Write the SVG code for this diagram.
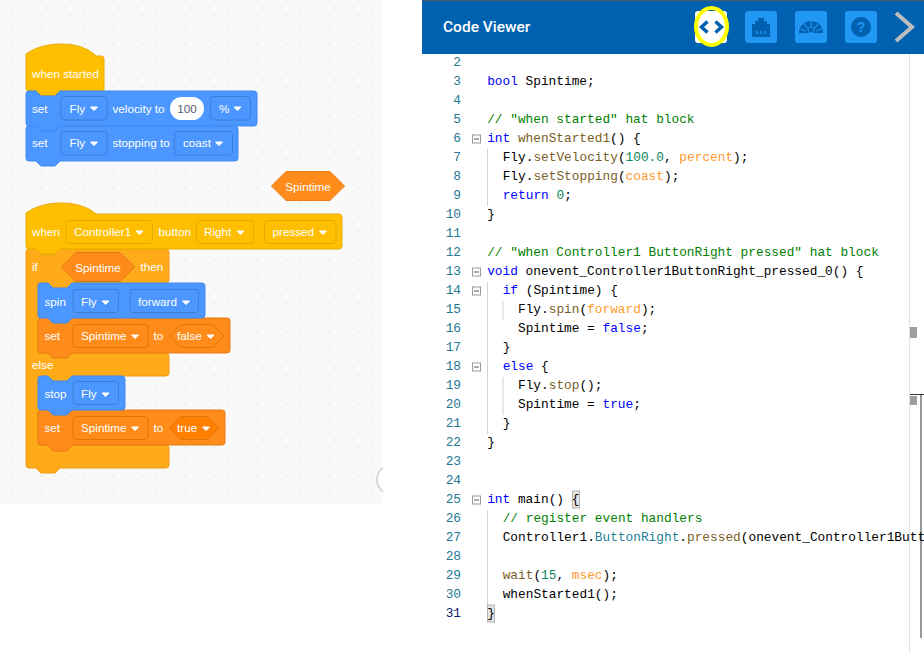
<svg xmlns="http://www.w3.org/2000/svg" width="924" height="653" viewBox="0 0 924 653">
<style>
.b{font-family:"Liberation Sans",Arial,sans-serif;font-size:11.7px;fill:#fff}
.hat{fill:#ffbf00;stroke:#e6ac00;stroke-width:1}
.blu{fill:#4c97ff;stroke:#3f8bf0;stroke-width:1}
.ctl{fill:#ffab19;stroke:#ec9c13;stroke-width:1}
.org{fill:#ff8c1a;stroke:#e67a0e;stroke-width:1}
.phat{fill:#ffbf00;stroke:#e6a800;stroke-width:1}
.pblu{fill:#4c97ff;stroke:#3c7fd9;stroke-width:1}
.porg{fill:#ff8c1a;stroke:#e0750c;stroke-width:1}
.pdk{fill:#ff7f00;stroke:#e0750c;stroke-width:1}
.hex{fill:#ff8c1a;stroke:#f07c10;stroke-width:1}
.c{font-family:"Liberation Mono","DejaVu Sans Mono",monospace;font-size:12.8px;fill:#000;white-space:pre}
.n{font-family:"Liberation Mono","DejaVu Sans Mono",monospace;font-size:12.8px;fill:#237893;text-anchor:end}
.k{fill:#0000ff}.m{fill:#008000}.f{fill:#795e26}.p{fill:#ff9a2e}.y{fill:#267f99}.d{fill:#09885a}.br{fill:#7a4a10}
.fold{fill:#fff;stroke:#9a9a9a;stroke-width:1}
.guide{stroke:#d3d3d3;stroke-width:1;fill:none}
.ico{fill:#2196f3}
.ig{fill:#0061b0}
</style>
<defs>
<pattern id="dots" x="12" y="14.2" width="14.4" height="14.4" patternUnits="userSpaceOnUse"><circle cx="0.7" cy="0.7" r="0.7" fill="#d6d6d6"/></pattern>
<path id="dd" d="M-3.5 0H3.5L0 3.6Z" fill="#fff" stroke="#fff" stroke-width="1" stroke-linejoin="round"/>
<clipPath id="ws"><rect x="0" y="0" width="383" height="504"/></clipPath>
</defs>
<rect width="924" height="653" fill="#fff"/>

<g id="workspace">
<rect x="0" y="0" width="383" height="504" fill="#f9f9f9"/>
<rect x="0" y="0" width="383" height="504" fill="url(#dots)"/>
<circle cx="392" cy="479.500" r="15" fill="#fff" stroke="#d9d9d9" stroke-width="2" clip-path="url(#ws)"/>
</g>

<g id="stack-when-started">
<g id="hat-when-started">
<path class="hat" d="M26 54C36 47 48 44 62 44C76 44 88 48 96 56H101Q104 56 104 59V91H60L55 96H41L36 91H29Q26 91 26 88Z"/>
<text class="b" x="32" y="78">when started</text>
</g>
<g id="block-set-velocity">
<path class="blu" d="M29 91H36L41 96H55L60 91H254Q257 91 257 94V123Q257 126 254 126H60L55 131H41L36 126H29Q26 126 26 123V94Q26 91 29 91Z"/>
<text class="b" x="32" y="113">set</text>
<rect class="pblu" x="61" y="96.500" width="46" height="23.500" rx="3"/>
<text class="b" x="69.500" y="113">Fly</text><use href="#dd" x="94" y="107"/>
<text class="b" x="112.500" y="113">velocity to</text>
<rect x="170" y="97" width="34" height="23" rx="11.500" fill="#fff"/>
<text class="b" x="187" y="113" text-anchor="middle" style="fill:#575e75">100</text>
<rect class="pblu" x="210.500" y="96.500" width="40" height="23.500" rx="3"/>
<text class="b" x="219" y="113">%</text><use href="#dd" x="237.500" y="107"/>
</g>
<g id="block-set-stopping">
<path class="blu" d="M29 126H36L41 131H55L60 126H235Q238 126 238 129V158Q238 161 235 161H60L55 166H41L36 161H29Q26 161 26 158V129Q26 126 29 126Z"/>
<path d="M36 126.500L41 131H55L60 126.500Z" fill="#4c97ff"/>
<path d="M36 126L41 131H55L60 126" fill="none" stroke="#3f8bf0"/>
<text class="b" x="32" y="147">set</text>
<rect class="pblu" x="61" y="131.500" width="46" height="23.500" rx="3"/>
<text class="b" x="69.500" y="147">Fly</text><use href="#dd" x="94" y="142"/>
<text class="b" x="112.500" y="147">stopping to</text>
<rect class="pblu" x="174.500" y="131.500" width="58" height="23.500" rx="3"/>
<text class="b" x="183" y="147">coast</text><use href="#dd" x="219" y="142"/>
</g>
</g>

<g id="var-spintime">
<path class="hex" d="M286 171.500H330L344.500 186L330 200.500H286L271.500 186Z"/>
<text class="b" x="308" y="191" text-anchor="middle">Spintime</text>
</g>

<g id="stack-when-pressed">
<g id="block-if-else">
<path class="ctl" d="M29 249H36L41 254H55L60 249H166Q169 249 169 252V280Q169 283 166 283H72L67 288H53L48 283H38V353H166Q169 353 169 356V373Q169 376 166 376H72L67 381H53L48 376H38V445H166Q169 445 169 448V465Q169 468 166 468H60L55 473H41L36 468H29Q26 468 26 465V252Q26 249 29 249Z"/>
<text class="b" x="32" y="271">if</text>
<path class="pdk" d="M76 252.500H120L134.500 267L120 281.500H76L61.500 267Z" style="fill:#ff8c1a"/>
<text class="b" x="98" y="271.500" text-anchor="middle">Spintime</text>
<text class="b" x="140.500" y="271">then</text>
<text class="b" x="32" y="369">else</text>
</g>
<g id="hat-when-pressed">
<path class="hat" d="M26 213C36 206 48 203 62 203C76 203 88 207 96 214H339Q342 214 342 217V246Q342 249 339 249H60L55 254H41L36 249H29Q26 249 26 246Z"/>
<text class="b" x="32" y="236">when</text>
<rect class="phat" x="66" y="220.500" width="86.500" height="23" rx="3"/>
<text class="b" x="74" y="236">Controller1</text><use href="#dd" x="139.500" y="231"/>
<text class="b" x="158.500" y="236">button</text>
<rect class="phat" x="196.500" y="220.500" width="57" height="23" rx="3"/>
<text class="b" x="204" y="236">Right</text><use href="#dd" x="240.500" y="231"/>
<rect class="phat" x="264.500" y="220.500" width="71.500" height="23" rx="3"/>
<text class="b" x="272.500" y="236">pressed</text><use href="#dd" x="323" y="231"/>
</g>
<g id="block-set-false">
<path class="org" d="M41 318H48L53 323H67L72 318H227Q230 318 230 321V350Q230 353 227 353H72L67 358H53L48 353H41Q38 353 38 350V321Q38 318 41 318Z"/>
<text class="b" x="44.500" y="340">set</text>
<rect class="porg" x="73" y="324.500" width="75" height="23" rx="3"/>
<text class="b" x="81" y="340">Spintime</text><use href="#dd" x="135" y="335"/>
<text class="b" x="153.500" y="340">to</text>
<path class="porg" d="M181 324.500H212L224 336L212 347.500H181L169.500 336Z"/>
<text class="b" x="177" y="340">false</text><use href="#dd" x="210.500" y="335"/>
</g>
<g id="block-spin">
<path class="blu" d="M41 283H48L53 288H67L72 283H202Q205 283 205 286V315Q205 318 202 318H72L67 323H53L48 318H41Q38 318 38 315V286Q38 283 41 283Z"/>
<text class="b" x="44.500" y="306">spin</text>
<rect class="pblu" x="73" y="289.500" width="45.500" height="23" rx="3"/>
<text class="b" x="81" y="306">Fly</text><use href="#dd" x="105.500" y="301"/>
<rect class="pblu" x="130" y="289.500" width="68.500" height="23" rx="3"/>
<text class="b" x="138" y="306">forward</text><use href="#dd" x="186" y="301"/>
</g>
<g id="block-set-true">
<path class="org" d="M41 410H48L53 415H67L72 410H222Q225 410 225 413V442Q225 445 222 445H72L67 451H53L48 445H41Q38 445 38 442V413Q38 410 41 410Z"/>
<text class="b" x="44.500" y="432">set</text>
<rect class="porg" x="73" y="416.500" width="75" height="23" rx="3"/>
<text class="b" x="81" y="432">Spintime</text><use href="#dd" x="135" y="427"/>
<text class="b" x="153.500" y="432">to</text>
<path class="pdk" d="M181 416.500H207L219 428L207 439.500H181L169.500 428Z"/>
<text class="b" x="177" y="432">true</text><use href="#dd" x="206" y="427"/>
</g>
<g id="block-stop">
<path class="blu" d="M41 376H48L53 381H67L72 376H122Q125 376 125 379V407Q125 410 122 410H72L67 415H53L48 410H41Q38 410 38 407V379Q38 376 41 376Z"/>
<text class="b" x="44.500" y="398">stop</text>
<rect class="pblu" x="73" y="381.500" width="45.500" height="23" rx="3"/>
<text class="b" x="81" y="398">Fly</text><use href="#dd" x="105.500" y="393"/>
</g>
</g>

<g id="code-viewer-header">
<rect x="422" y="0" width="502" height="54" fill="#0061b0"/>
<rect x="422" y="0" width="502" height="1.500" fill="#3a5f85"/>
<text x="443" y="32" font-family="Roboto,'Liberation Sans',sans-serif" font-size="15.500" font-weight="500" fill="#fff">Code Viewer</text>
<g id="icon-code">
<rect x="695" y="11" width="32" height="32" rx="3" fill="#fff"/>
<ellipse cx="711.500" cy="26.500" rx="15.500" ry="18.500" fill="none" stroke="#ffff00" stroke-width="4"/>
<path d="M707.500 21.500L701.500 27L707.500 32.500M715.500 21.500L721.500 27L715.500 32.500" fill="none" stroke="#0061b0" stroke-width="3.500"/>
</g>
<g id="icon-device">
<rect class="ico" x="745" y="11" width="32" height="32" rx="3"/>
<path class="ig" d="M752 37V24H755V21H758V18H764V21H767V24H770V37Z"/>
<path d="M757 31v3M761 31v3M765 31v3" stroke="#2196f3" stroke-width="1.500"/>
</g>
<g id="icon-dashboard">
<rect class="ico" x="795" y="11" width="32" height="32" rx="3"/>
<path class="ig" d="M799 33A12 12 0 0 1 823 33Z"/>
<path d="M811 21V28M804 24L808 29M818 24L814 29M800.500 29L806 31M821.500 29L816 31" stroke="#2196f3" stroke-width="1.200"/>
<circle class="ig" cx="811" cy="30" r="3" stroke="#2196f3"/>
</g>
<g id="icon-help">
<rect class="ico" x="845" y="11" width="32" height="32" rx="3"/>
<circle class="ig" cx="861" cy="27" r="10"/>
<text x="861" y="32" font-family="'Liberation Sans',sans-serif" font-size="14" font-weight="700" fill="#2196f3" text-anchor="middle">?</text>
</g>
<path id="icon-next" d="M896 13L912 27L896 41" fill="none" stroke="#bdbdbd" stroke-width="4"/>
</g>

<g id="code-viewer-body">
<path d="M909.500 54V653" stroke="#e0e0e0" stroke-width="1"/>
<rect x="910" y="327" width="7" height="11" fill="#9e9e9e"/>
<rect x="910" y="396" width="7" height="9" fill="#9e9e9e"/>
<path d="M910 394.500H924" stroke="#333" stroke-width="1"/>
<path d="M921 394V638" stroke="#333" stroke-width="1"/>
<path class="guide" d="M487.500 149V206M487.500 282V434M487.500 510V606M503 301V320M503 377V415"/>
<g id="fold-marks">
<rect class="fold" x="472.500" y="135" width="8" height="8"/><path d="M474 139h5" stroke="#555"/>
<rect class="fold" x="472.500" y="268" width="8" height="8"/><path d="M474 272h5" stroke="#555"/>
<rect class="fold" x="472.500" y="287" width="8" height="8"/><path d="M474 291h5" stroke="#555"/>
<rect class="fold" x="472.500" y="363" width="8" height="8"/><path d="M474 367h5" stroke="#555"/>
<rect class="fold" x="472.500" y="496" width="8" height="8"/><path d="M474 500h5" stroke="#555"/>
</g>
<rect x="572.500" y="491" width="7" height="17" fill="#e4e4e4" stroke="#b4b4b4"/>
<rect x="487.500" y="605" width="7" height="17" fill="#e4e4e4" stroke="#b4b4b4"/>
<g id="line-numbers">
<text class="n" x="461" y="66">2</text><text class="n" x="461" y="85">3</text><text class="n" x="461" y="104">4</text><text class="n" x="461" y="123">5</text><text class="n" x="461" y="142">6</text><text class="n" x="461" y="161">7</text><text class="n" x="461" y="180">8</text><text class="n" x="461" y="199">9</text><text class="n" x="461" y="218">10</text><text class="n" x="461" y="237">11</text><text class="n" x="461" y="256">12</text><text class="n" x="461" y="275">13</text><text class="n" x="461" y="294">14</text><text class="n" x="461" y="313">15</text><text class="n" x="461" y="332">16</text><text class="n" x="461" y="351">17</text><text class="n" x="461" y="370">18</text><text class="n" x="461" y="389">19</text><text class="n" x="461" y="408">20</text><text class="n" x="461" y="427">21</text><text class="n" x="461" y="446">22</text><text class="n" x="461" y="465">23</text><text class="n" x="461" y="484">24</text><text class="n" x="461" y="503">25</text><text class="n" x="461" y="522">26</text><text class="n" x="461" y="541">27</text><text class="n" x="461" y="560">28</text><text class="n" x="461" y="579">29</text><text class="n" x="461" y="598">30</text><text class="n" x="461" y="617" style="fill:#0b216f">31</text>
</g>
<g id="code-lines">
<text class="c" x="487.200" y="85"><tspan class="k">bool</tspan> Spintime;</text>
<text class="c m" x="487.200" y="123">// "when started" hat block</text>
<text class="c" x="487.200" y="142"><tspan class="k">int</tspan> <tspan class="f">whenStarted1</tspan>() {</text>
<text class="c" x="502.700" y="161">Fly.<tspan class="f">setVelocity</tspan>(<tspan class="d">100.0</tspan>, <tspan class="p">percent</tspan>);</text>
<text class="c" x="502.700" y="180">Fly.<tspan class="f">setStopping</tspan>(<tspan class="p">coast</tspan>);</text>
<text class="c" x="502.700" y="199"><tspan class="k">return</tspan> <tspan class="d">0</tspan>;</text>
<text class="c" x="487.200" y="218">}</text>
<text class="c m" x="487.200" y="256">// "when Controller1 ButtonRight pressed" hat block</text>
<text class="c" x="487.200" y="275"><tspan class="k">void</tspan> onevent_Controller1ButtonRight_pressed_0() {</text>
<text class="c" x="502.700" y="294"><tspan class="k">if</tspan> (Spintime) {</text>
<text class="c" x="518" y="313">Fly.<tspan class="f">spin</tspan>(<tspan class="p">forward</tspan>);</text>
<text class="c" x="518" y="332">Spintime = <tspan class="k">false</tspan>;</text>
<text class="c" x="502.700" y="351">}</text>
<text class="c" x="502.700" y="370"><tspan class="k">else</tspan> {</text>
<text class="c" x="518" y="389">Fly.<tspan class="f">stop</tspan>();</text>
<text class="c" x="518" y="408">Spintime = <tspan class="k">true</tspan>;</text>
<text class="c" x="502.700" y="427">}</text>
<text class="c" x="487.200" y="446">}</text>
<text class="c" x="487.200" y="503"><tspan class="k">int</tspan> main() {</text>
<text class="c m" x="502.700" y="522">// register event handlers</text>
<text class="c" x="502.700" y="541">Controller1.<tspan class="y">ButtonRight</tspan>.<tspan class="f">pressed</tspan>(onevent_Controller1Butt</text>
<text class="c" x="502.700" y="579"><tspan class="f">wait</tspan>(<tspan class="d">15</tspan>, <tspan class="p">msec</tspan>);</text>
<text class="c" x="502.700" y="598">whenStarted1();</text>
<text class="c" x="487.200" y="617">}</text>
</g>
</g>
</svg>
